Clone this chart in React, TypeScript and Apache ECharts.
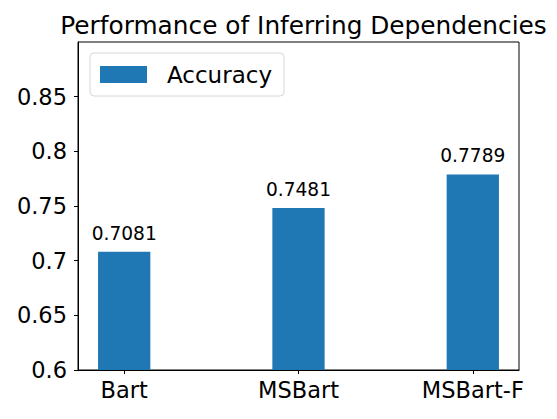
import React, { useEffect, useRef } from "react";
import * as echarts from "echarts";

const categories = ["Bart", "MSBart", "MSBart-F"];
const accuracy = [0.7081, 0.7481, 0.7789];
const yTicks = { min: 0.6, max: 0.9, interval: 0.05 };
const seriesName = "Accuracy";
const titleText = "Performance of Inferring Dependencies";

const FONT = "DejaVu Sans";
const W = 557;
const H = 419;
const GRID = { left: 78, right: 38, top: 42, bottom: 49 };
const X_MIN = -0.265;
const X_MAX = 2.265;
const BAR_FRAC = 0.3;

export default function App() {
  const ref = useRef<HTMLDivElement>(null);
  useEffect(() => {
    if (!ref.current) return;
    const chart = echarts.init(ref.current, undefined, { renderer: "svg" });
    const plotW = W - GRID.left - GRID.right;
    const barWidth = (plotW / (X_MAX - X_MIN)) * BAR_FRAC;
    const idx = categories.map((_, i) => i);
    chart.setOption({
      animation: false,
      backgroundColor: "#ffffff",
      title: {
        text: titleText,
        left: GRID.left + plotW / 2,
        textAlign: "center",
        top: 8,
        textStyle: { fontFamily: FONT, fontSize: 24.8, fontWeight: "normal", color: "#000" },
      },
      legend: {
        data: [seriesName],
        left: 90,
        top: 53,
        orient: "vertical",
        padding: [10, 12, 10, 10],
        itemWidth: 47,
        itemHeight: 17,
        icon: "rect",
        borderColor: "#d6d6d6",
        borderWidth: 1,
        borderRadius: 4,
        backgroundColor: "rgba(255,255,255,0.8)",
        textStyle: { fontFamily: FONT, fontSize: 23, color: "#000", padding: [0, 0, 0, 15] },
      },
      grid: {
        ...GRID,
        show: true,
        borderColor: "#000",
        borderWidth: 1,
        backgroundColor: "transparent",
      },
      xAxis: {
        type: "value",
        min: X_MIN,
        max: X_MAX,
        splitLine: { show: false },
        axisLine: { show: true, onZero: false, lineStyle: { color: "#000" } },
        axisTick: { show: true, length: 4, customValues: idx, lineStyle: { color: "#000" } },
        axisLabel: {
          customValues: idx,
          formatter: (v: number) => categories[Math.round(v)] ?? "",
          fontFamily: FONT,
          fontSize: 22.5,
          color: "#000",
          margin: 8,
        },
      },
      yAxis: {
        type: "value",
        min: yTicks.min,
        max: yTicks.max,
        interval: yTicks.interval,
        splitLine: { show: false },
        axisLine: { show: true, onZero: false, lineStyle: { color: "#000" } },
        axisTick: { show: true, length: 4, lineStyle: { color: "#000" } },
        axisLabel: {
          showMaxLabel: false,
          formatter: (v: number) => String(parseFloat(v.toFixed(2))),
          fontFamily: FONT,
          fontSize: 22.5,
          color: "#000",
          margin: 11,
        },
      },
      series: [
        {
          name: seriesName,
          type: "bar",
          data: accuracy.map((v, i) => [i, v]),
          barWidth,
          itemStyle: { color: "#1f77b4" },
          label: {
            show: true,
            position: "top",
            distance: 9,
            formatter: (p: any) => p.value[1].toFixed(4),
            fontFamily: FONT,
            fontSize: 18.6,
            color: "#000",
          },
        },
      ],
    });
    return () => chart.dispose();
  }, []);
  return (
    <div
      ref={ref}
      style={{ position: "absolute", left: 0, top: 0, width: W, height: H }}
    />
  );
}
